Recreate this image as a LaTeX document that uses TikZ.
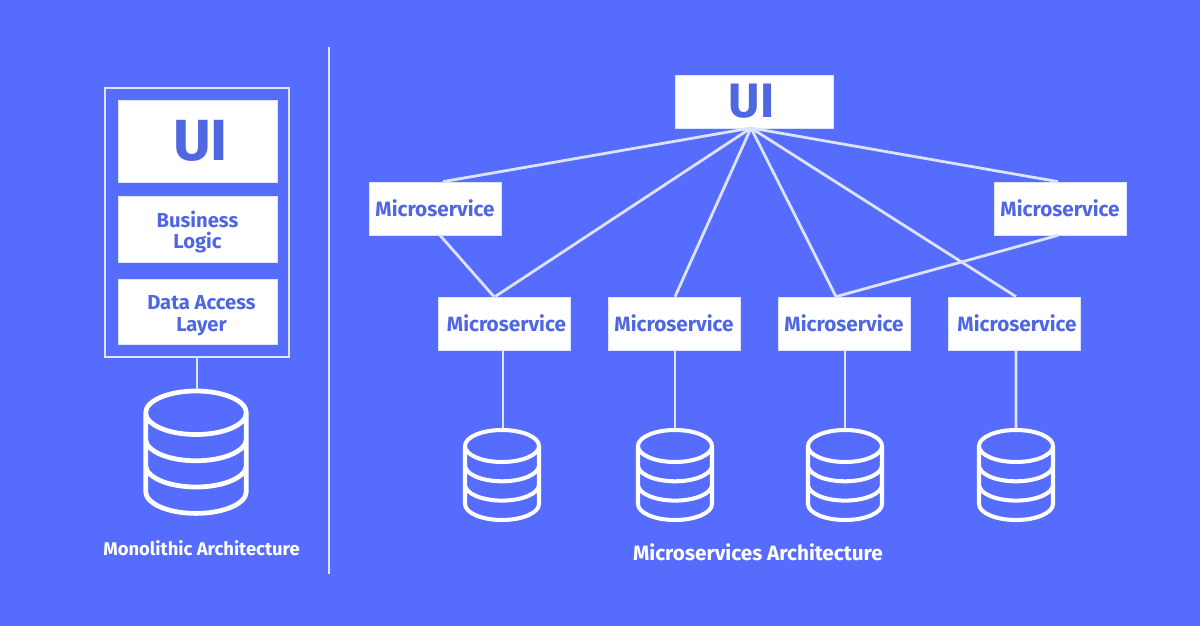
\documentclass[tikz,border=0pt]{standalone}
\usepackage{fontspec}
\setmainfont{Fira Sans}
\definecolor{bgblue}{HTML}{556CFD}
\definecolor{boxtext}{HTML}{5067E2}
\definecolor{linecol}{HTML}{DDE3FF}
\tikzset{
	box/.style={fill=white,draw=linecol,line width=0.4pt,inner sep=0pt,align=center,text=boxtext,font=\bfseries},
	svc/.style={box,minimum width=2.64cm,minimum height=1.06cm,font=\fontsize{11.8}{13}\selectfont\bfseries},
	layer/.style={box,minimum width=3.18cm,font=\fontsize{11.5}{12.2}\selectfont\bfseries},
	link/.style={draw=linecol,line width=1.6pt},
	caption/.style={text=white,font=\fontsize{10.5}{12}\selectfont\bfseries},
	pics/dbcyl/.style={code={
		\draw[white,line cap=round,line join=round,pic actions]
			(0,-16) ellipse (37 and 16)
			(-37,-16) -- (-37,-74)
			(37,-16) -- (37,-74)
			(-37,-35.3) arc (180:360:37 and 16)
			(-37,-54.6) arc (180:360:37 and 16)
			(-37,-74) arc (180:360:37 and 16);
	}}
}
\begin{document}
\begin{tikzpicture}[x=0.02cm,y=0.02cm]
		%background
		\fill[bgblue] (0,0) rectangle (1200,626);
		\useasboundingbox (0,0) rectangle (1200,626);
		\coordinate (divtop) at (329,579);
		\coordinate (divbot) at (329,52);
		\draw[link] (divtop) -- (divbot);
		
		%monolith
		\node[draw=linecol,line width=1.2pt,minimum width=3.68cm,minimum height=5.38cm,inner sep=0pt] (mono) at (197,403.5) {};
		\node[layer,minimum height=1.64cm,font=\fontsize{33}{36}\selectfont\bfseries] (monoui) at (197.5,485) {\hspace*{0.12cm}UI};
		\node[layer,minimum height=1.32cm] (monobiz) at (197.5,397) {\rule{0pt}{13pt}Business\\Logic};
		\node[layer,minimum height=1.3cm] (monodata) at (197.5,314.5) {\rule{0pt}{13pt}\hspace*{0.16cm}Data Access\\\hspace*{0.16cm}Layer};
		\coordinate (db0) at (197,237);
		\draw[link] (mono.south) -- (db0);
		\pic[scale=1.36,line width=2.7pt] at (196,235) {dbcyl};
		\node[caption] (monotitle) at (201.5,78) {Monolithic Architecture};
		
		%microservices
		\node[box,minimum width=3.16cm,minimum height=1.06cm,font=\fontsize{27.5}{32}\selectfont\bfseries] (ui) at (754,524.5) {UI\hspace*{0.1cm}};
		\coordinate (hub) at (751,498);
		\node[svc] (msl) at (435,417.5) {Microservice};
		\node[svc] (msr) at (1060,417.5) {Microservice};
		\node[svc] (msa) at (504,302.5) {\hspace*{0.1cm}Microservice};
		\node[svc] (msb) at (674,302.5) {Microservice};
		\node[svc] (msc) at (844,302.5) {Microservice};
		\node[svc] (msd) at (1014,302.5) {\hspace*{0.12cm}Microservice};
		
		%links
		\draw[link] (hub) -- ([xshift=0.16cm]msl.north);
		\draw[link] (hub) -- ([xshift=-0.04cm]msr.north);
		\draw[link] (hub) -- ([xshift=-0.18cm]msa.north);
		\draw[link] (hub) -- ([xshift=0.02cm]msb.north);
		\draw[link] (hub) -- ([xshift=-0.16cm]msc.north);
		\draw[link] (hub) -- ([xshift=0.04cm]msd.north);
		\draw[link] ([xshift=0.1cm]msl.south) -- ([xshift=-0.2cm]msa.north);
		\draw[link] ([xshift=-0.04cm]msr.south) -- ([xshift=-0.16cm]msc.north);
		
		%databases
		\coordinate (db1) at (503,197);
		\coordinate (db2) at (675,197);
		\coordinate (db3) at (845,197);
		\coordinate (db4) at (1016,197);
		\draw[link] ([xshift=-0.02cm]msa.south) -- (db1);
		\draw[link] ([xshift=0.02cm]msb.south) -- (db2);
		\draw[link] ([xshift=0.02cm]msc.south) -- (db3);
		\draw[link] ([xshift=0.04cm]msd.south) -- (db4);
		\pic[line width=2.3pt] at (502,196) {dbcyl};
		\pic[line width=2.3pt] at (675,196) {dbcyl};
		\pic[line width=2.3pt] at (845,196) {dbcyl};
		\pic[line width=2.3pt] at (1016,196) {dbcyl};
		\node[caption,font=\fontsize{11.8}{13}\selectfont\bfseries] (microtitle) at (758,74) {Microservices Architecture};
\end{tikzpicture}
\end{document}
